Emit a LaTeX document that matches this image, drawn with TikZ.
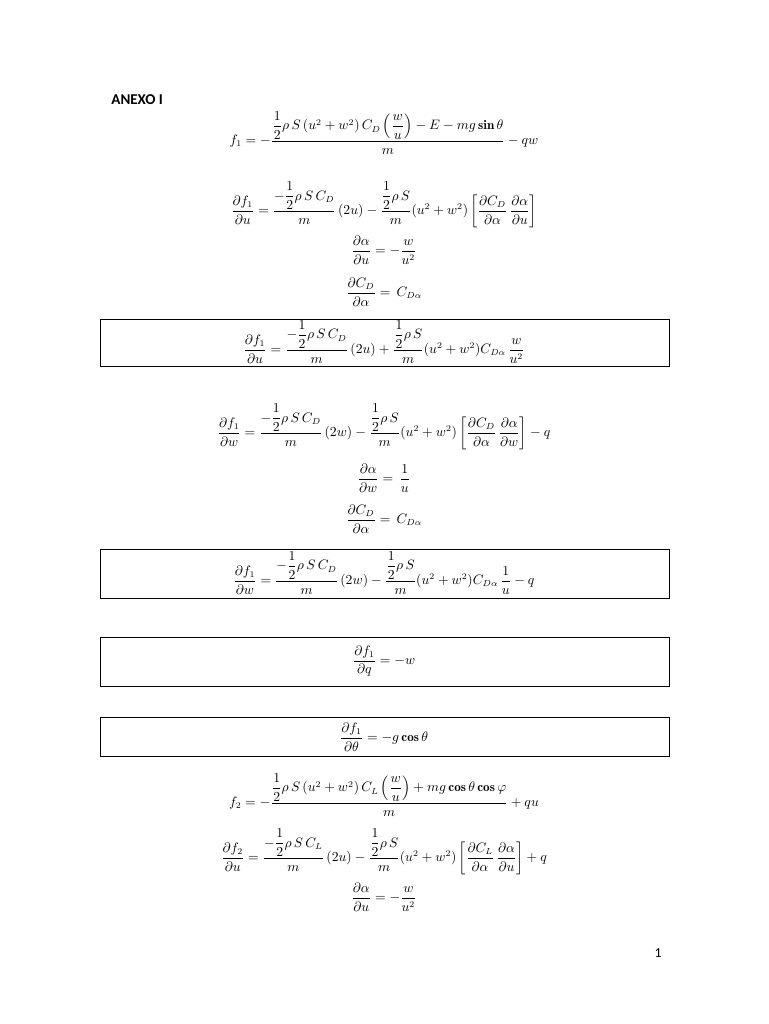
\documentclass[tikz,border=0pt]{standalone}
\usepackage{amsmath}
\usepackage{fontspec}
\newfontfamily\calib{Carlito}
\newcommand{\hlf}{\dfrac{1}{2}}
\begin{document}
\begin{tikzpicture}[x=0.8pt,y=-0.8pt,
  eq/.style={inner sep=0pt,font=\fontsize{10.5}{13}\selectfont},
  frame/.style={draw,line width=0.6pt}]
\useasboundingbox[fill=white] (0,0) rectangle (768,1024);
\node[anchor=west,font=\calib\bfseries\fontsize{12}{14}\selectfont] (title) at (107,100) {ANEXO I};
\node[eq] (e1) at (384,133) {$\displaystyle f_1=-\frac{\hlf\rho\,S\,(u^2+w^2)\,C_D\left(\dfrac{w}{u}\right)-E-mg\,\mathbf{sin}\,\theta}{m}-qw$};
\node[eq] (e2) at (384,205) {$\displaystyle \frac{\partial f_1}{\partial u}=\frac{-\hlf\rho\,S\,C_D}{m}\,(2u)-\frac{\hlf\rho\,S}{m}(u^2+w^2)\left[\frac{\partial C_D}{\partial\alpha}\,\frac{\partial\alpha}{\partial u}\right]$};
\node[eq] (e3) at (384,250) {$\displaystyle \frac{\partial\alpha}{\partial u}=-\frac{w}{u^2}$};
\node[eq] (e4) at (384,292) {$\displaystyle \frac{\partial C_D}{\partial\alpha}=\,C_{D\alpha}$};
\node[frame,minimum width=569*0.8pt,minimum height=47*0.8pt] (b1) at (384.5,342.5) {};
\node[eq] (e5) at (384,342) {$\displaystyle \frac{\partial f_1}{\partial u}=\frac{-\hlf\rho\,S\,C_D}{m}\,(2u)+\frac{\hlf\rho\,S}{m}(u^2+w^2)C_{D\alpha}\,\frac{w}{u^2}$};
\node[eq] (e6) at (384,427) {$\displaystyle \frac{\partial f_1}{\partial w}=\frac{-\hlf\rho\,S\,C_D}{m}\,(2w)-\frac{\hlf\rho\,S}{m}(u^2+w^2)\left[\frac{\partial C_D}{\partial\alpha}\,\frac{\partial\alpha}{\partial w}\right]-q$};
\node[eq] (e7) at (384,478) {$\displaystyle \frac{\partial\alpha}{\partial w}=\,\frac{1}{u}$};
\node[eq] (e8) at (384,519) {$\displaystyle \frac{\partial C_D}{\partial\alpha}=\,C_{D\alpha}$};
\node[frame,minimum width=569*0.8pt,minimum height=49*0.8pt] (b2) at (384.5,573.5) {};
\node[eq] (e9) at (384,573) {$\displaystyle \frac{\partial f_1}{\partial w}=\frac{-\hlf\rho\,S\,C_D}{m}\,(2w)-\frac{\hlf\rho\,S}{m}(u^2+w^2)C_{D\alpha}\,\frac{1}{u}-q$};
\node[frame,minimum width=569*0.8pt,minimum height=49*0.8pt] (b3) at (384.5,661.5) {};
\node[eq] (e10) at (384,661) {$\displaystyle \frac{\partial f_1}{\partial q}=-w$};
\node[frame,minimum width=569*0.8pt,minimum height=39*0.8pt] (b4) at (384.5,736.5) {};
\node[eq] (e11) at (384,737) {$\displaystyle \frac{\partial f_1}{\partial\theta}=-g\,\mathbf{cos}\,\theta$};
\node[eq] (e12) at (384,795) {$\displaystyle f_2=-\frac{\hlf\rho\,S\,(u^2+w^2)\,C_L\left(\dfrac{w}{u}\right)+mg\,\mathbf{cos}\,\theta\,\mathbf{cos}\,\varphi}{m}+qu$};
\node[eq] (e13) at (384,852) {$\displaystyle \frac{\partial f_2}{\partial u}=\frac{-\hlf\rho\,S\,C_L}{m}\,(2u)-\frac{\hlf\rho\,S}{m}(u^2+w^2)\left[\frac{\partial C_L}{\partial\alpha}\,\frac{\partial\alpha}{\partial u}\right]+q$};
\node[eq] (e14) at (384,897) {$\displaystyle \frac{\partial\alpha}{\partial u}=-\frac{w}{u^2}$};
\node[font=\calib\fontsize{11}{13}\selectfont] (pg) at (658,953) {1};
\end{tikzpicture}
\end{document}
